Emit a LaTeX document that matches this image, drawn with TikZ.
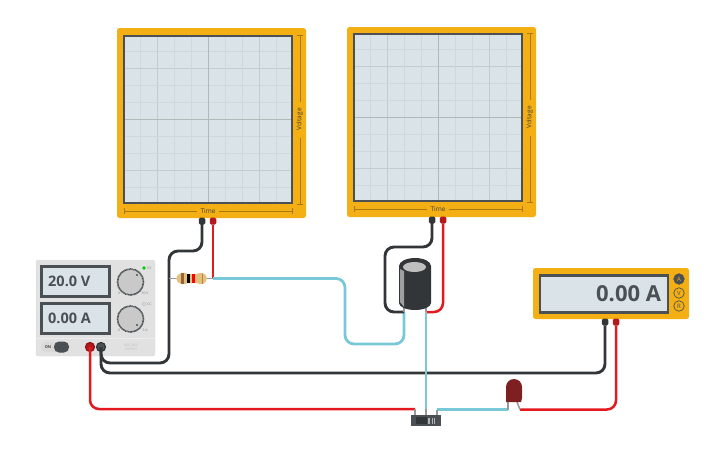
\documentclass[tikz,border=0pt]{standalone}
\usepackage{fontspec}
\setmainfont{Open Sans}
\usetikzlibrary{positioning,calc,shapes.geometric}
\definecolor{scopeorange}{HTML}{F4AF14}
\definecolor{screenblue}{HTML}{DAE3E7}
\definecolor{framegray}{HTML}{4A5053}
\definecolor{gridpale}{HTML}{CFD9DB}
\definecolor{gridgray}{HTML}{C3CDCE}
\definecolor{gridmid}{HTML}{AEB9B8}
\definecolor{wirered}{HTML}{E3191F}
\definecolor{wiredark}{HTML}{333638}
\definecolor{wirecyan}{HTML}{78C8D8}
\definecolor{supplygray}{HTML}{E1E1E1}
\definecolor{knobgray}{HTML}{C9C9C9}
\definecolor{termred}{HTML}{B3181C}
\definecolor{ledred}{HTML}{7E1F22}
\definecolor{resbody}{HTML}{E2C07E}
\tikzset{
	scopebody/.style = {fill=scopeorange, rounded corners=2.5pt, minimum width=189pt, minimum height=190pt, inner sep=0pt},
	screen/.style = {fill=screenblue, draw=framegray, line width=2.4pt, inner sep=0pt},
	readout/.style = {font=\fontsize{14.5}{15}\selectfont\bfseries, text=framegray, inner sep=0pt},
	tinytext/.style = {font=\fontsize{6.5}{6.5}\selectfont, text=framegray!80!black, inner sep=0pt},
	faint/.style = {font=\fontsize{3.4}{3.6}\selectfont, inner sep=0pt, align=center},
	knob/.style = {circle, fill=knobgray, draw=framegray, line width=1.6pt, dash pattern=on 1pt off 0.5pt, minimum size=26pt, inner sep=0pt},
	terminal/.style = {circle, minimum size=9pt, inner sep=0pt, line width=1.2pt},
	probe/.style = {minimum width=6.5pt, minimum height=7pt, inner sep=0pt, rounded corners=1.5pt},
	modebtn/.style = {circle, draw=framegray, line width=0.7pt, minimum size=10.5pt, inner sep=0pt, font=\fontsize{6}{6}\selectfont, text=framegray},
	redwire/.style = {draw=wirered, line width=2.5pt, rounded corners=9pt},
	darkwire/.style = {draw=wiredark, line width=2.9pt, rounded corners=9pt},
	cyanwire/.style = {draw=wirecyan, line width=2.8pt, rounded corners=9pt},
	lead/.style = {draw=gray!80, line width=1.5pt},
	band/.style = {minimum width=3pt, minimum height=9pt, inner sep=0pt},
	rule/.style = {scopeorange!70!black, line width=0.4pt}
}
\newcommand{\scopegrid}[2]{%
	\foreach \n/\c in {1/gridpale,2/gridgray,3/gridpale,4/gridpale,6/gridpale,7/gridpale,8/gridgray,9/gridpale} {
		\draw[\c, line width=0.6pt] ($(#1.north west)!\n/10!(#1.north east)$) -- ($(#1.south west)!\n/10!(#1.south east)$);
		\draw[\c, line width=0.6pt] ($(#1.north west)!\n/10!(#1.south west)$) -- ($(#1.north east)!\n/10!(#1.south east)$);
	}
	\draw[gridmid, line width=0.8pt] (#1.north) -- (#1.south);
	\draw[gridmid, line width=0.8pt] (#1.west) -- (#1.east);
	\node[screen, fill=none, minimum width=168pt, minimum height=167pt] at (#1) {};
	\node[tinytext] (#2time) at ([yshift=-6.5pt]#1.south) {Time};
	\node[tinytext, rotate=90] (#2volt) at ([xshift=6.5pt]#1.east) {Voltage};
	\draw[|-, rule] ([xshift=1pt]#1.south west |- #2time) -- ([xshift=-11pt]#2time.center);
	\draw[-|, rule] ([xshift=11pt]#2time.center) -- ([xshift=-1pt]#1.south east |- #2time);
	\draw[|-, rule] (#2volt |- #1.north) -- ([yshift=18pt]#2volt.center);
	\draw[-|, rule] ([yshift=-18pt]#2volt.center) -- (#2volt |- #1.south);
}
\begin{document}
\begin{tikzpicture}[x=1pt, y=-1pt]
	\useasboundingbox (0,0) rectangle (725,453);

	% first scope
	\node[scopebody] (scopeA) at (211.5,123) {};
	\node[screen, minimum width=168pt, minimum height=167pt] (gridA) at (208,119.5) {};
	\scopegrid{gridA}{a}
	\node[probe, fill=wiredark] (scopeAneg) at (202,221) {};
	\node[probe, fill=termred] (scopeApos) at (213,221) {};

	% second scope
	\node[scopebody] (scopeB) at (441.5,122) {};
	\node[screen, minimum width=168pt, minimum height=167pt] (gridB) at (438,117.5) {};
	\scopegrid{gridB}{b}
	\node[probe, fill=wiredark] (scopeBneg) at (432,220) {};
	\node[probe, fill=termred] (scopeBpos) at (443,220) {};

	% power supply
	\node[fill=supplygray, draw=gray!25, rounded corners=1.5pt, minimum width=119pt, minimum height=96pt, inner sep=0pt] (supply) at (95.5,308) {};
	\draw[white!85!gray, line width=0.6pt] (supply.west |- 0,338) -- (supply.east |- 0,338);
	\node[screen, minimum width=68pt, minimum height=30pt] (volts) at (75.5,281.5) {};
	\node[readout, anchor=west] (voltstext) at (48,281.5) {20.0 V};
	\node[screen, minimum width=68pt, minimum height=30pt] (amps) at (75.5,318.5) {};
	\node[readout, anchor=west] (ampstext) at (48,318.5) {0.00 A};
	\node[knob] (knobV) at (130.5,282) {};
	\node[knob] (knobA) at (130.5,319) {};
	\node[circle, fill=framegray, minimum size=2.2pt, inner sep=0pt] (dotV) at (137,275) {};
	\node[circle, fill=framegray, minimum size=2.2pt, inner sep=0pt] (dotA) at (137,325) {};
	\node[circle, fill=green!80!black, minimum size=3.6pt, inner sep=0pt] (ledcv) at (144,268) {};
	\node[circle, draw=gray!60, line width=0.4pt, minimum size=3.6pt, inner sep=0pt] (ledcc) at (144,304) {};
	\node[faint, text=gray, right=1pt of ledcv] (cvtext) {CV};
	\node[faint, text=gray, right=1pt of ledcc] (cctext) {CC};
	\node[faint, text=gray] (lowV) at (119,293.5) {0};
	\node[faint, text=gray] (highV) at (145,293.5) {30 V};
	\node[faint, text=gray] (lowA) at (119,330) {0};
	\node[faint, text=gray] (highA) at (145,330) {5 A};
	\node[fill=gray!30, rounded corners=5pt, minimum width=28pt, minimum height=10pt, inner sep=0pt] (slot) at (55,347) {};
	\node[faint, text=framegray, font=\fontsize{4}{4}\selectfont\bfseries] (ontext) at (48,347.5) {ON};
	\node[fill=framegray, rounded corners=5pt, minimum width=15pt, minimum height=11pt, inner sep=0pt] (toggle) at (61.5,347) {};
	\node[faint, text=gray!50] (brand) at (131,347) {VOLTAGE\\SUPPLY};
	\node[terminal, fill=termred, draw=termred!80!black] (supplypos) at (90,347) {};
	\node[terminal, fill=framegray, draw=wiredark] (supplyneg) at (101,347) {};

	% ammeter
	\node[scopebody, minimum width=156pt, minimum height=51pt] (meter) at (611,293.5) {};
	\node[screen, minimum width=128pt, minimum height=37pt] (meterscreen) at (604,294) {};
	\node[readout, font=\fontsize{22}{22}\selectfont\bfseries, anchor=east] (metertext) at ([xshift=-8pt]meterscreen.east) {0.00 A};
	\node[modebtn, fill=framegray, text=scopeorange] (modeA) at (679,279) {A};
	\node[modebtn] (modeV) at (679,293) {V};
	\node[modebtn] (modeR) at (679,306) {R};
	\node[probe, fill=wiredark] (meterneg) at (605,322) {};
	\node[probe, fill=termred] (meterpos) at (616,322) {};

	% switch and named wire ends
	\node[fill=framegray, minimum width=30pt, minimum height=11pt, inner sep=0pt] (switch) at (426,420.5) {};
	\node[fill=wiredark, minimum width=11pt, minimum height=7pt, inner sep=0pt] (knobS) at (421.5,420.5) {};
	\node[fill=gray!60, minimum width=7pt, minimum height=6pt, inner sep=0pt] (gripS) at (431.5,420.5) {};
	\foreach \x in {430,431.5,433} {
		\draw[framegray, line width=0.5pt] (\x,418) -- (\x,423.5);
	}
	\coordinate (resL) at (169,278.5);
	\coordinate (resR) at (213,278.5);
	\coordinate (capL) at (404,312);
	\coordinate (capR) at (426,312);
	\coordinate (swA) at (415,409);
	\coordinate (swB) at (426,409);
	\coordinate (swC) at (437,409.5);
	\coordinate (ledL) at (508,409.5);
	\coordinate (ledR) at (520,409.5);

	% wires
	\draw[darkwire] (scopeAneg.center) -- (202,251) -- (169,251) -- (169,363) -- (101,363) -- (supplyneg.center);
	\draw[darkwire] (supplyneg.center) -- (101,373) -- (605,373) -- (meterneg.south);
	\draw[redwire] (scopeApos.south) -- (resR);
	\draw[cyanwire] (resR) -- (345,278.5) -- (345,344) -- (404,344) -- (capL);
	\draw[darkwire] (scopeBneg.center) -- (432,247) -- (385,247) -- (385,312) -- (capL);
	\draw[redwire] (scopeBpos.south) -- (443,312) -- (capR);
	\draw[cyanwire] (capR) -- (swB);
	\draw[redwire] (supplypos.center) -- (90,409) -- (swA);
	\draw[cyanwire] (swC) -- (ledL);
	\draw[redwire] (ledR) -- (616,409.5) -- (meterpos.south);
	\draw[lead] (swA) -- (swA |- switch.north);
	\draw[lead] (swB) -- (swB |- switch.north);
	\draw[lead] (swC) -- (swC |- switch.north);
	\draw[lead] (ledL) -- (508,402);
	\draw[lead] (ledR) -- (517,402);
	\draw[lead] (capL) -- (404,306);
	\draw[lead] (capR) -- (426,306);

	% resistor
	\draw[lead] (resL) -- (resR);
	\fill[resbody] (176,278.5) .. controls (177,272) and (185,272) .. (188,274) -- (197,274) .. controls (200,272) and (206,272) .. (207,278.5) .. controls (206,285) and (200,285) .. (197,283) -- (188,283) .. controls (185,285) and (177,285) .. (176,278.5) -- cycle;
	\node[band, minimum height=10.5pt, fill=brown!80!black] (band1) at (182,278.5) {};
	\node[band, fill=black] (band2) at (188,278.5) {};
	\node[band, fill=red] (band3) at (193,278.5) {};
	\node[band, minimum width=1pt, minimum height=10pt, fill=brown] (band4) at (202,278.5) {};

	% capacitor
	\fill[wiredark] (399,266) -- (399,303) arc[start angle=180, end angle=0, x radius=16, y radius=7] -- (431,266) arc[start angle=0, end angle=-180, x radius=16, y radius=8] -- cycle;
	\fill[gray!75] (400,269) -- (400,302) -- (404,307) -- (404,271) -- cycle;
	\node[ellipse, fill=gray!50, minimum width=23pt, minimum height=10pt, inner sep=0pt] (captop) at (414.5,267) {};

	% led
	\fill[ledred] (506,402) -- (506,387) arc[start angle=180, end angle=360, x radius=8, y radius=8] -- (522,398) -- (521,402) -- cycle;
\end{tikzpicture}
\end{document}
